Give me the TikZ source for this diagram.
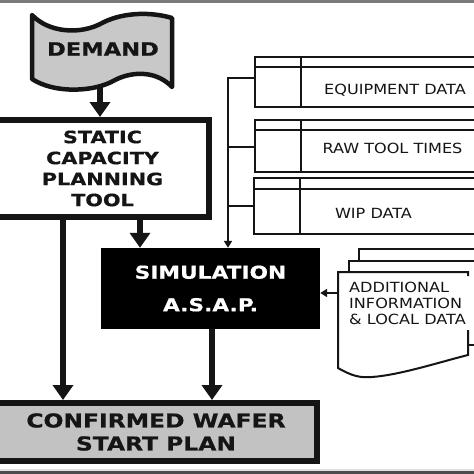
\documentclass[tikz,border=0pt]{standalone}
\usepackage{fontspec}
\setmainfont{DejaVu Sans}
\newfontfamily\bfw[FakeStretch=1.22,FakeBold=0.6]{DejaVu Sans Bold}
\newfontfamily\rgw[FakeStretch=1.15]{DejaVu Sans}
\usetikzlibrary{arrows.meta}
\definecolor{flaggray}{HTML}{C8C8C8}
\definecolor{confgray}{HTML}{C2C2C2}
\definecolor{inkc}{HTML}{151515}
\begin{document}
\begin{tikzpicture}[x=1pt,y=-1pt,
  bigarrow/.style={draw=inkc,line width=6pt,-{Triangle[width=20pt,length=15pt]}},
  thinarrow/.style={draw=inkc,line width=2pt,-{Triangle[width=8pt,length=7pt]}},
  thinline/.style={draw=inkc,line width=2pt},
  thickbox/.style={draw=inkc,line width=6pt,inner sep=0pt,text=inkc},
  databox/.style={draw=inkc,line width=2.2pt,inner sep=0pt,outer sep=0pt,minimum width=225pt,anchor=north west},
  dataline/.style={draw=inkc,line width=2.2pt},
  docline/.style={draw=inkc,line width=2pt},
  datatext/.style={inner sep=0pt,anchor=base,text=inkc,font=\rgw\fontsize{14}{16}\selectfont},
]
\useasboundingbox (0,0) rectangle (474,474);
\clip (0,0) rectangle (474,474);
\fill[white] (0,0) rectangle (474,474);
% bands
\fill[black!52] (0,0) rectangle (474,2.5);
\fill[black!12] (0,469) rectangle (474,471);
\fill[black!70] (0,471) rectangle (474,474);

% demand flag
\draw[draw=inkc,line width=4.5pt,fill=flaggray,line join=round]
  (32,15) .. controls (48,32) and (80,36) .. (104,22)
  .. controls (125,12) and (152,12) .. (172,18) -- (172,87)
  .. controls (158,72) and (135,70) .. (115,80)
  .. controls (95,92) and (55,94) .. (32,79) -- cycle;
\node[inner sep=0pt,text=inkc,font=\bfw\fontsize{18.5}{22}\selectfont] (demand) at (103,49) {DEMAND};
\coordinate (flagB) at (100,86);

% static capacity planning tool
\node[thickbox,fill=white,minimum width=213pt,minimum height=97pt,align=center,
  font=\bfw\fontsize{17}{21}\selectfont] (static) at (102.5,168.5)
  {STATIC\\CAPACITY\\PLANNING\\TOOL};

% simulation
\node[fill=black,inner sep=0pt,minimum width=219pt,minimum height=81pt,text=white,align=center,
  font=\bfw\fontsize{17.8}{32.5}\selectfont] (sim) at (210.5,288.5) {SIMULATION\\A.S.A.P.};

% confirmed wafer start plan
\node[thickbox,fill=confgray,minimum width=322pt,minimum height=58pt,align=center,
  font=\bfw\fontsize{19.2}{23}\selectfont] (conf) at (156,432) {CONFIRMED WAFER\\START PLAN};

% data boxes
\node[databox,minimum height=50pt] (box1) at (255,57) {};
\draw[dataline] ([yshift=-10pt]box1.north west) -- ([yshift=-10pt]box1.north east);
\draw[dataline] ([xshift=46pt]box1.north west) -- ([xshift=46pt]box1.south west);
\node[datatext] (eq) at (395,94) {EQUIPMENT DATA};

\node[databox,minimum height=52pt] (box2) at (255,120) {};
\draw[dataline] ([yshift=-10pt]box2.north west) -- ([yshift=-10pt]box2.north east);
\draw[dataline] ([xshift=46pt]box2.north west) -- ([xshift=46pt]box2.south west);
\node[datatext] (raw) at (392.5,153) {RAW TOOL TIMES};

\node[databox,minimum height=56pt] (box3) at (254,178) {};
\draw[dataline] ([yshift=-11pt]box3.north west) -- ([yshift=-11pt]box3.north east);
\draw[dataline] ([xshift=46pt]box3.north west) -- ([xshift=46pt]box3.south west);
\node[datatext] (wip) at (373.5,218) {WIP DATA};

% bus
\coordinate (bus1) at (228,78);
\coordinate (bus2) at (228,147);
\coordinate (bus3) at (228,206);
\draw[thinarrow] (bus1 -| box1.west) -- (bus1) -- (bus1 |- sim.north);
\draw[thinline] (bus2) -- (bus2 -| box2.west);
\draw[thinline] (bus3) -- (bus3 -| box3.west);

% document stack
\draw[docline] (359,261) -- (359,249) -- (480,249);
\draw[docline] (349,272) -- (349,261) -- (480,261);
\draw[docline,fill=white] (468,276) -- (468,272) -- (338,272) -- (338,368)
  .. controls (352,376) and (360,378) .. (372,377)
  .. controls (400,375) and (440,362) .. (468,355) -- (468,330);
\draw[docline] (468,345) -- (480,345);
\node[inner sep=0pt,anchor=north west,align=left,text=inkc,
  font=\rgw\fontsize{14}{16}\selectfont] (addl) at (349,281.7)
  {ADDITIONAL\\INFORMATION\\\& LOCAL DATA};
\coordinate (docL) at (338,293);

% arrows
\coordinate (s1) at (63,217);
\coordinate (s2) at (140,217);
\coordinate (s3) at (212,329);
\draw[bigarrow] (flagB) -- (flagB |- static.north);
\draw[bigarrow] (s1) -- (s1 |- conf.north);
\draw[bigarrow] (s2) -- (s2 |- sim.north);
\draw[bigarrow] (s3) -- (s3 |- conf.north);
\draw[thinarrow] (docL) -- (docL -| sim.east);
\end{tikzpicture}
\end{document}
